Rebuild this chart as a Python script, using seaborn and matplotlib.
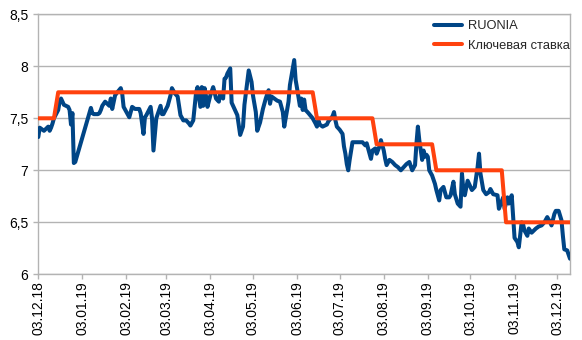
import matplotlib
matplotlib.use("Agg")
import matplotlib.pyplot as plt
from matplotlib.ticker import FuncFormatter
import pandas as pd
import seaborn as sns

# RUONIA overnight rate, %
ruonia_dates = [
    "03.12.18", "04.12.18", "05.12.18", "06.12.18", "07.12.18", "10.12.18", "11.12.18", "12.12.18",
    "13.12.18", "14.12.18", "17.12.18", "18.12.18", "19.12.18", "20.12.18", "21.12.18", "24.12.18",
    "25.12.18", "26.12.18", "27.12.18", "28.12.18", "29.12.18",
    "09.01.19", "10.01.19", "11.01.19", "14.01.19", "15.01.19", "16.01.19", "17.01.19", "18.01.19",
    "19.01.19", "22.01.19", "23.01.19", "24.01.19", "26.01.19", "27.01.19", "30.01.19", "31.01.19",
    "01.02.19", "03.02.19", "05.02.19", "07.02.19", "09.02.19", "12.02.19", "13.02.19", "15.02.19",
    "16.02.19", "17.02.19", "20.02.19", "21.02.19", "22.02.19", "23.02.19", "24.02.19", "27.02.19",
    "28.02.19",
    "01.03.19", "04.03.19", "06.03.19", "07.03.19", "09.03.19", "11.03.19", "13.03.19", "15.03.19",
    "17.03.19", "19.03.19", "20.03.19", "22.03.19", "23.03.19", "24.03.19", "25.03.19", "27.03.19",
    "28.03.19", "29.03.19", "30.03.19", "31.03.19",
    "01.04.19", "03.04.19", "05.04.19", "06.04.19", "07.04.19", "09.04.19", "10.04.19", "12.04.19",
    "13.04.19", "14.04.19", "15.04.19", "17.04.19", "18.04.19", "20.04.19", "22.04.19", "24.04.19",
    "26.04.19", "27.04.19", "29.04.19", "30.04.19",
    "02.05.19", "03.05.19", "05.05.19", "06.05.19", "08.05.19", "10.05.19", "12.05.19", "14.05.19",
    "15.05.19", "16.05.19", "18.05.19", "20.05.19", "22.05.19", "24.05.19", "25.05.19", "26.05.19",
    "28.05.19", "29.05.19", "31.05.19",
    "01.06.19", "02.06.19", "03.06.19", "05.06.19", "06.06.19", "07.06.19", "08.06.19", "09.06.19",
    "11.06.19", "14.06.19", "16.06.19", "17.06.19", "18.06.19", "19.06.19", "21.06.19", "24.06.19",
    "25.06.19", "28.06.19", "29.06.19", "30.06.19",
    "01.07.19", "03.07.19", "05.07.19", "06.07.19", "07.07.19", "08.07.19", "09.07.19", "10.07.19",
    "12.07.19", "14.07.19", "16.07.19", "19.07.19", "21.07.19", "22.07.19", "23.07.19", "25.07.19",
    "26.07.19", "28.07.19", "29.07.19", "31.07.19",
    "01.08.19", "03.08.19", "04.08.19", "05.08.19", "07.08.19", "09.08.19", "11.08.19", "13.08.19",
    "15.08.19", "17.08.19", "19.08.19", "21.08.19", "23.08.19", "25.08.19", "26.08.19", "27.08.19",
    "28.08.19", "30.08.19", "31.08.19",
    "01.09.19", "02.09.19", "03.09.19", "04.09.19", "06.09.19", "08.09.19", "09.09.19", "11.09.19",
    "12.09.19", "14.09.19", "16.09.19", "18.09.19", "19.09.19", "21.09.19", "22.09.19", "24.09.19",
    "26.09.19", "27.09.19", "28.09.19", "29.09.19",
    "01.10.19", "02.10.19", "04.10.19", "06.10.19", "08.10.19", "09.10.19", "10.10.19", "12.10.19",
    "14.10.19", "16.10.19", "17.10.19", "19.10.19", "22.10.19", "23.10.19", "26.10.19", "27.10.19",
    "29.10.19", "30.10.19",
    "01.11.19", "02.11.19", "03.11.19", "05.11.19", "06.11.19", "08.11.19", "09.11.19", "10.11.19",
    "12.11.19", "13.11.19", "15.11.19", "18.11.19", "20.11.19", "22.11.19", "24.11.19", "26.11.19",
    "28.11.19", "29.11.19",
    "01.12.19", "02.12.19", "04.12.19", "06.12.19", "07.12.19", "08.12.19", "10.12.19", "11.12.19",
    "12.12.19",
]
ruonia_values = [
    7.32, 7.41, 7.40, 7.39, 7.38, 7.42, 7.38, 7.41,
    7.45, 7.50, 7.58, 7.66, 7.69, 7.66, 7.63, 7.61,
    7.58, 7.44, 7.55, 7.07, 7.08,
    7.60, 7.55, 7.54, 7.54, 7.55, 7.58, 7.62, 7.64,
    7.66, 7.62, 7.69, 7.59, 7.72, 7.74, 7.79, 7.74,
    7.61, 7.56, 7.51, 7.61, 7.59, 7.59, 7.55, 7.35,
    7.51, 7.53, 7.61, 7.50, 7.19, 7.34, 7.50, 7.62,
    7.54,
    7.54, 7.62, 7.72, 7.79, 7.74, 7.71, 7.53, 7.48,
    7.48, 7.45, 7.43, 7.48, 7.62, 7.75, 7.80, 7.61,
    7.80, 7.62, 7.79, 7.71,
    7.61, 7.72, 7.80, 7.75, 7.69, 7.66, 7.74, 7.69,
    7.88, 7.89, 7.93, 7.98, 7.65, 7.59, 7.53, 7.34,
    7.42, 7.63, 7.85, 7.96,
    7.85, 7.72, 7.56, 7.38, 7.46, 7.59, 7.69, 7.77,
    7.64, 7.71, 7.69, 7.67, 7.66, 7.56, 7.42, 7.50,
    7.66, 7.82, 7.98,
    8.06, 7.87, 7.79, 7.62, 7.69, 7.58, 7.68, 7.58,
    7.55, 7.50, 7.45, 7.42, 7.48, 7.44, 7.42, 7.44,
    7.47, 7.52, 7.56, 7.48,
    7.42, 7.39, 7.35, 7.23, 7.16, 7.06, 7.00, 7.10,
    7.27, 7.27, 7.27, 7.27, 7.24, 7.26, 7.21, 7.11,
    7.19, 7.21, 7.16, 7.23,
    7.29, 7.19, 7.11, 7.05, 7.10, 7.08, 7.05, 7.03,
    7.00, 7.03, 7.06, 7.08, 7.00, 7.05, 7.26, 7.42,
    7.29, 7.10, 7.19,
    7.13, 7.15, 7.13, 7.00, 6.95, 6.87, 6.81, 6.71,
    6.81, 6.84, 6.74, 6.74, 6.76, 6.89, 6.77, 6.68,
    6.65, 6.97, 6.81, 6.76,
    6.90, 6.87, 6.81, 6.84, 7.03, 7.16, 6.97, 6.81,
    6.77, 6.79, 6.82, 6.77, 6.76, 6.63, 6.74, 6.63,
    6.74, 6.68,
    6.76, 6.55, 6.35, 6.31, 6.26, 6.50, 6.48, 6.42,
    6.37, 6.44, 6.40, 6.44, 6.46, 6.47, 6.50, 6.55,
    6.50, 6.47,
    6.58, 6.61, 6.61, 6.52, 6.37, 6.24, 6.23, 6.19,
    6.15,
]

# Bank of Russia key rate, %
key_rate_dates = [
    "03.12.18", "14.12.18", "17.12.18", "14.06.19", "17.06.19", "26.07.19",
    "29.07.19", "06.09.19", "09.09.19", "25.10.19", "28.10.19", "12.12.19",
]
key_rate_values = [7.50, 7.50, 7.75, 7.75, 7.50, 7.50, 7.25, 7.25, 7.00, 7.00, 6.50, 6.50]

x_tick_labels = [
    "03.12.18", "03.01.19", "03.02.19", "03.03.19", "03.04.19", "03.05.19", "03.06.19",
    "03.07.19", "03.08.19", "03.09.19", "03.10.19", "03.11.19", "03.12.19",
]
y_ticks = [6, 6.5, 7, 7.5, 8, 8.5]

series_names = ["RUONIA", "Ключевая ставка"]
series_colors = ["#004586", "#ff420e"]

sns.set_theme(style="white")
plt.rcParams["font.family"] = ["Liberation Sans", "DejaVu Sans"]

fmt = "%d.%m.%y"
ruonia = pd.DataFrame({"date": pd.to_datetime(ruonia_dates, format=fmt), "rate": ruonia_values})
key_rate = pd.DataFrame({"date": pd.to_datetime(key_rate_dates, format=fmt), "rate": key_rate_values})

fig = plt.figure(figsize=(5.82, 3.40), dpi=100)
ax = fig.add_axes([38.3 / 582, 65.7 / 340, 531.7 / 582, 260 / 340])

sns.lineplot(data=ruonia, x="date", y="rate", ax=ax, color=series_colors[0],
             linewidth=2.9, label=series_names[0], estimator=None, sort=False, zorder=3)
sns.lineplot(data=key_rate, x="date", y="rate", ax=ax, color=series_colors[1],
             linewidth=2.9, label=series_names[1], estimator=None, sort=False, zorder=4)

grey = "#b3b3b3"
ax.set_ylim(6, 8.5)
ax.set_xlim(pd.to_datetime("03.12.18", format=fmt), pd.to_datetime("12.12.19", format=fmt))
ax.set_yticks(y_ticks)
ax.yaxis.set_major_formatter(FuncFormatter(lambda v, _: f"{v:g}".replace(".", ",")))
ax.set_xticks(pd.to_datetime(x_tick_labels, format=fmt))
ax.set_xticklabels(x_tick_labels, rotation=90)
ax.set_xlabel("")
ax.set_ylabel("")

ax.yaxis.grid(True, color=grey, linewidth=1)
ax.xaxis.grid(False)
for side in ["left", "right", "top", "bottom"]:
    ax.spines[side].set_visible(True)
    ax.spines[side].set_color(grey)
    ax.spines[side].set_linewidth(1)
ax.tick_params(axis="both", which="major", direction="out", length=3.6, width=1,
               color=grey, labelcolor="black", labelsize=10, bottom=True, left=True)
ax.tick_params(axis="x", pad=1.5)
ax.tick_params(axis="y", pad=3.5)

ax.legend(loc="upper left", bbox_to_anchor=(434 / 582, 1 - 20 / 340),
          bbox_transform=fig.transFigure, frameon=False, borderpad=0, borderaxespad=0,
          handlelength=2.2, handletextpad=0.4, labelspacing=0.6, fontsize=9.3)

fig.savefig("out.png", dpi=100)
